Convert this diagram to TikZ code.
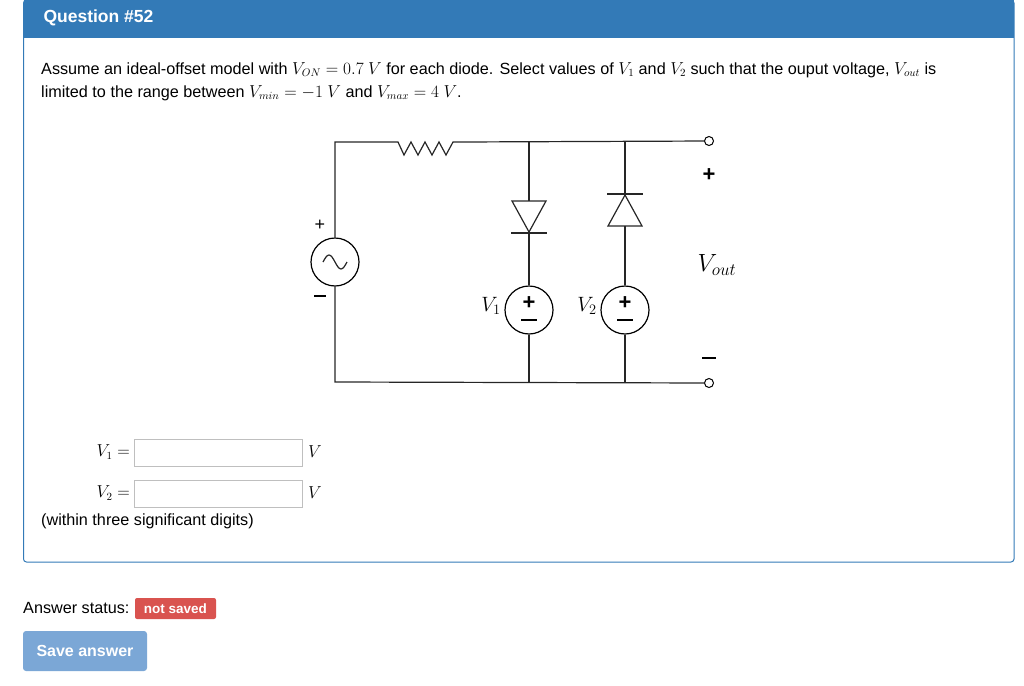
\documentclass[tikz,border=0pt]{standalone}
\usepackage{fontspec}
\setmainfont{Liberation Sans}
\usetikzlibrary{positioning}
\definecolor{hdr}{HTML}{337AB7}
\definecolor{badge}{HTML}{D9534F}
\definecolor{btn}{HTML}{7BA7D6}
\tikzset{
  wire/.style={line width=1.2pt,black!85},
  txt/.style={anchor=west,inner sep=0pt,font=\fontsize{16.2pt}{19pt}\selectfont},
  term/.style={circle,draw,line width=1pt,fill=white,minimum size=9pt,inner sep=0pt},
  src/.style={circle,draw,line width=1.2pt,minimum size=48pt,inner sep=0pt},
  field/.style={draw=black!25,minimum width=168pt,minimum height=27pt,inner sep=0pt}
}
\begin{document}
\begin{tikzpicture}[x=1pt,y=-1pt]
   \useasboundingbox (0,0) rectangle (1024,685);
   % panel
   \draw[hdr,line width=1pt,rounded corners=3pt] (23.5,0) rectangle (1014,562);
   \fill[hdr] (23.5,0) rectangle (1014,38);
   \node[anchor=west,text=white,font=\fontsize{17.5pt}{20pt}\selectfont\bfseries] (title) at (40,18) {Question \#52};
   \node[txt] (q1) at (41,70) {Assume an ideal-offset model with $V_{ON}=0.7\ V$ for each diode. Select values of $V_1$ and $V_2$ such that the ouput voltage, $V_{out}$ is};
   \node[txt] (q2) at (41,93) {limited to the range between $V_{min}=-1\ V$ and $V_{max}=4\ V$.};
   % circuit
   \node[term] (tp) at (709,141) {};
   \node[term] (tm) at (709,383) {};
   \node[src] (vs) at (335,262) {};
   \node[src] (s1) at (529,310) {};
   \node[src] (s2) at (625,310) {};
   \coordinate (tl) at (335,142);
   \coordinate (bl) at (335,382);
   \coordinate (r1) at (398,142);
   \coordinate (r2) at (462,142);
   \coordinate (a1) at (529,142);
   \coordinate (b1) at (529,382);
   \coordinate (a2) at (625,142);
   \coordinate (b2) at (625,382);
   \draw[wire] (vs) -- (tl) -- (r1) -- ++(6,13) -- ++(7,-13) -- ++(7,13) -- ++(7,-13) -- ++(7,13) -- ++(7,-13) -- ++(7,13) -- ++(7,-13) -- (r2) -- (tp);
   \draw[wire] (vs) -- (bl) -- (tm);
   \draw[wire] (323,262) sin (329,255) cos (335,262) sin (341,269) cos (347,262);
   % branch 1
   \draw[wire] (a1) -- (529,201);
   \draw[wire] (512,201) -- (546,201) -- (529,232) -- cycle;
   \draw[wire] (511,233) -- (547,233);
   \draw[wire] (529,233) -- (s1) -- (b1);
   % branch 2
   \draw[wire] (a2) -- (625,194);
   \draw[wire] (607,194) -- (643,194);
   \draw[wire] (625,195) -- (608,226) -- (642,226) -- cycle;
   \draw[wire] (625,226) -- (s2) -- (b2);
   % source signs
   \foreach \s in {s1,s2} {
     \node[font=\fontsize{22pt}{22pt}\selectfont\bfseries,inner sep=0pt] at ([yshift=7]\s.center) {+};
     \draw[line width=2.5pt] ([xshift=-8,yshift=-10]\s.center) -- ([xshift=8,yshift=-10]\s.center);
   }
   \node[font=\fontsize{21pt}{21pt}\selectfont,inner sep=0pt] (v1) at (491,306) {$V_1$};
   \node[font=\fontsize{21pt}{21pt}\selectfont,inner sep=0pt] (v2) at (587,306) {$V_2$};
   \node[font=\fontsize{18pt}{18pt}\selectfont,inner sep=0pt] (sp) at (320,225) {+};
   \draw[line width=1.3pt] (314,296) -- (326,296);
   \node[font=\fontsize{22pt}{22pt}\selectfont\bfseries,inner sep=0pt] (op) at (709,175) {+};
   \draw[line width=2.5pt] (702,358) -- (716,358);
   \node[font=\fontsize{24pt}{24pt}\selectfont,inner sep=0pt] (vo) at (717,265) {$V_{out}$};
   % answer fields
   \node[field,anchor=west] (f1) at (134,452.5) {};
   \node[field,anchor=west] (f2) at (134,493.5) {};
   \node[anchor=east,inner sep=0pt,font=\fontsize{16pt}{18pt}\selectfont] (l1) at (130,452) {$V_1=$};
   \node[anchor=east,inner sep=0pt,font=\fontsize{16pt}{18pt}\selectfont] (l2) at (130,493) {$V_2=$};
   \node[anchor=west,inner sep=0pt,font=\fontsize{16pt}{18pt}\selectfont] (u1) at (308,452) {$V$};
   \node[anchor=west,inner sep=0pt,font=\fontsize{16pt}{18pt}\selectfont] (u2) at (308,493) {$V$};
   \node[txt] (hint) at (41,521) {(within three significant digits)};
   % status
   \node[txt] (st) at (23,608) {Answer status:};
   \node[fill=badge,text=white,rounded corners=2pt,font=\fontsize{13.5pt}{15pt}\selectfont\bfseries,minimum height=21pt,minimum width=81pt,inner sep=1pt] (bd) at (175.5,608.5) {not saved};
   \node[fill=btn,text=white,rounded corners=3pt,font=\fontsize{16pt}{18pt}\selectfont\bfseries,minimum height=40pt,minimum width=124pt,inner sep=2pt] (sv) at (85,651) {Save answer};
\end{tikzpicture}
\end{document}
